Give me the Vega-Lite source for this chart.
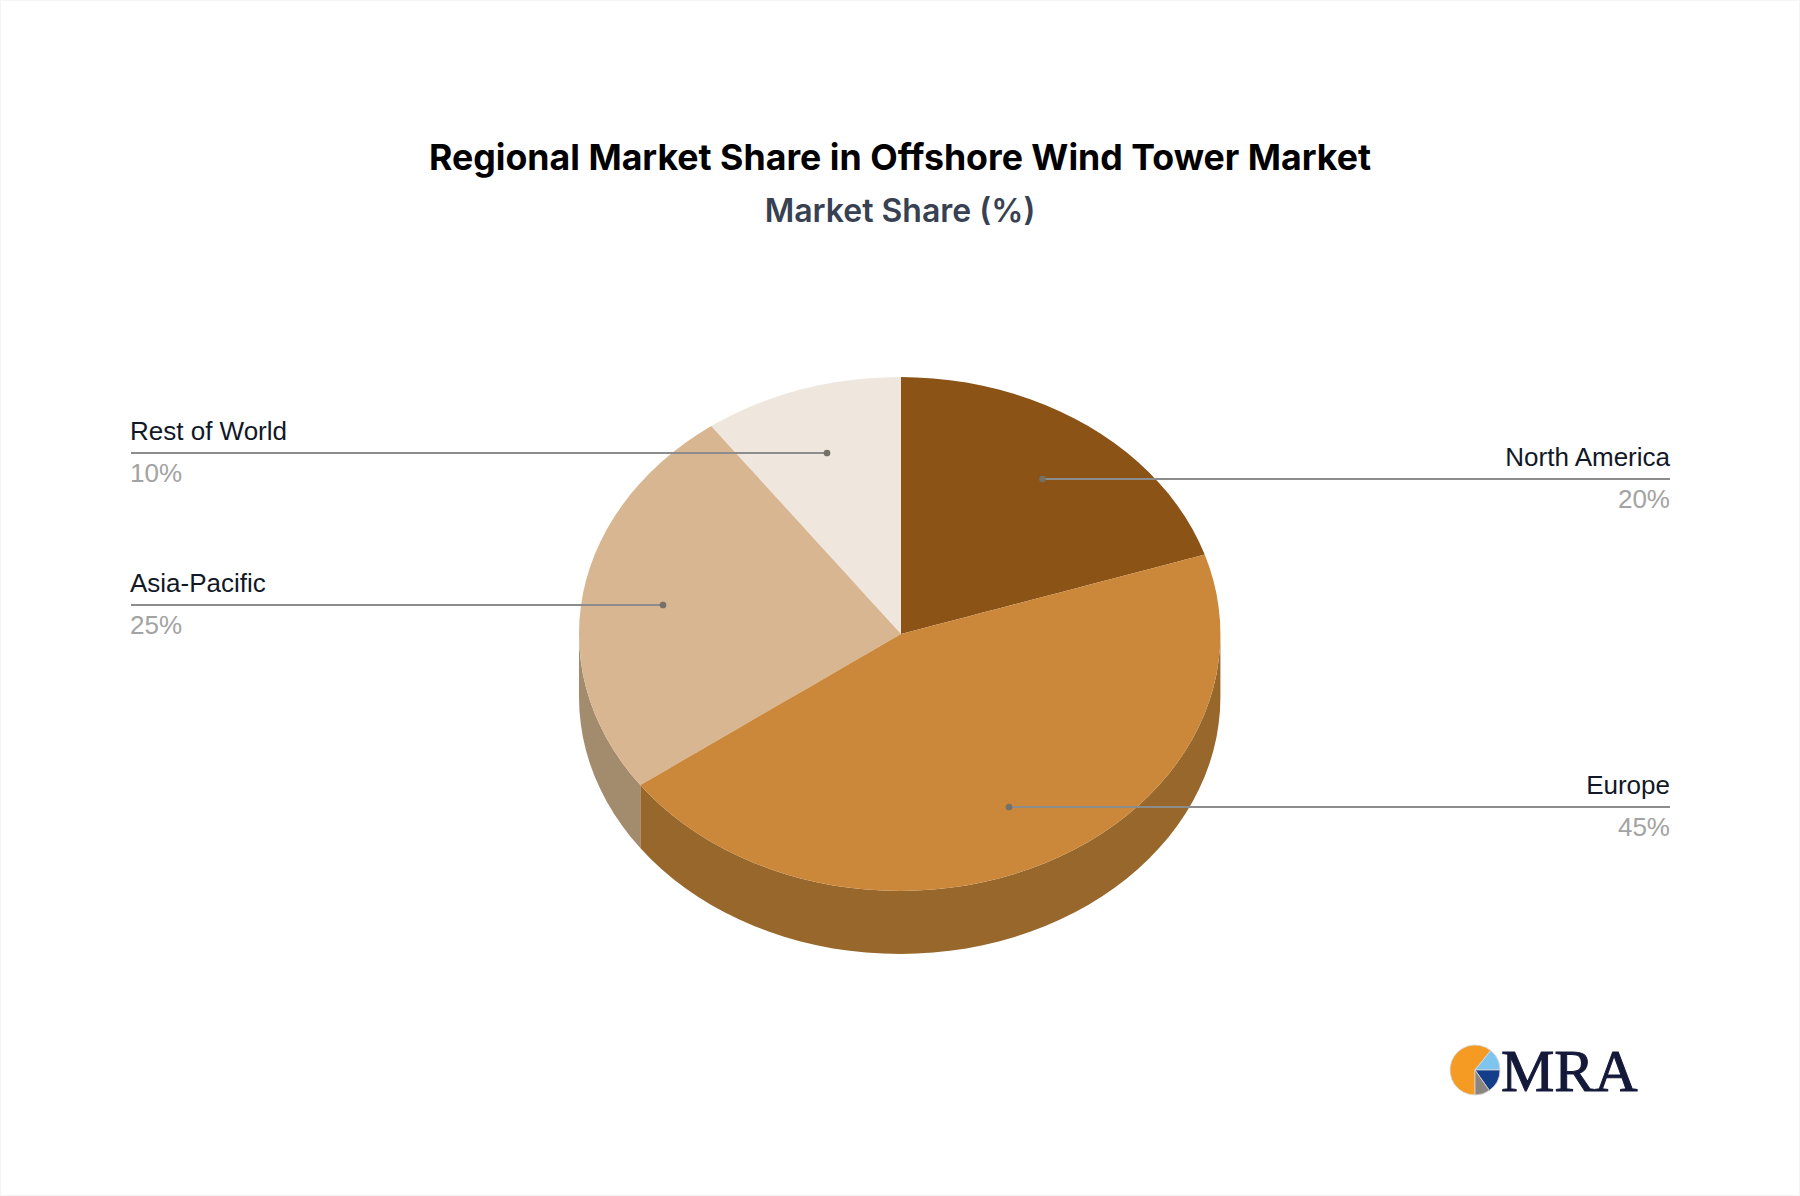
{
  "$schema": "https://vega.github.io/schema/vega-lite/v6.json",
  "description": "Regional market share in the offshore wind tower market, drawn as a tilted pie.",
  "width": 1800,
  "height": 1196,
  "padding": 0,
  "autosize": "none",
  "background": "#ffffff",
  "config": {"view": {"stroke": "#f4f4f4", "strokeWidth": 2}},
  "datasets": {
    "slices": [
      {"part": "Europe side", "x": 640.3, "y": 785.1, "y2": 848.1},
      {"part": "Europe side", "x": 650.5, "y": 795.7, "y2": 858.7},
      {"part": "Europe side", "x": 661.4, "y": 806, "y2": 869},
      {"part": "Europe side", "x": 672.9, "y": 815.7, "y2": 878.7},
      {"part": "Europe side", "x": 685.1, "y": 825, "y2": 888},
      {"part": "Europe side", "x": 697.9, "y": 833.7, "y2": 896.7},
      {"part": "Europe side", "x": 711.2, "y": 841.9, "y2": 904.9},
      {"part": "Europe side", "x": 725, "y": 849.5, "y2": 912.5},
      {"part": "Europe side", "x": 739.3, "y": 856.6, "y2": 919.6},
      {"part": "Europe side", "x": 754.1, "y": 863, "y2": 926},
      {"part": "Europe side", "x": 769.3, "y": 868.8, "y2": 931.8},
      {"part": "Europe side", "x": 784.8, "y": 873.9, "y2": 936.9},
      {"part": "Europe side", "x": 800.6, "y": 878.4, "y2": 941.4},
      {"part": "Europe side", "x": 816.7, "y": 882.2, "y2": 945.2},
      {"part": "Europe side", "x": 833, "y": 885.4, "y2": 948.4},
      {"part": "Europe side", "x": 849.5, "y": 887.8, "y2": 950.8},
      {"part": "Europe side", "x": 866.2, "y": 889.6, "y2": 952.6},
      {"part": "Europe side", "x": 882.9, "y": 890.6, "y2": 953.6},
      {"part": "Europe side", "x": 901, "y": 891, "y2": 954},
      {"part": "Europe side", "x": 916.5, "y": 890.6, "y2": 953.6},
      {"part": "Europe side", "x": 933.2, "y": 889.6, "y2": 952.6},
      {"part": "Europe side", "x": 949.9, "y": 887.8, "y2": 950.8},
      {"part": "Europe side", "x": 966.4, "y": 885.4, "y2": 948.4},
      {"part": "Europe side", "x": 982.7, "y": 882.2, "y2": 945.2},
      {"part": "Europe side", "x": 998.8, "y": 878.4, "y2": 941.4},
      {"part": "Europe side", "x": 1014.6, "y": 873.9, "y2": 936.9},
      {"part": "Europe side", "x": 1030.1, "y": 868.8, "y2": 931.8},
      {"part": "Europe side", "x": 1045.3, "y": 863, "y2": 926},
      {"part": "Europe side", "x": 1060.1, "y": 856.6, "y2": 919.6},
      {"part": "Europe side", "x": 1074.4, "y": 849.5, "y2": 912.5},
      {"part": "Europe side", "x": 1088.2, "y": 841.9, "y2": 904.9},
      {"part": "Europe side", "x": 1101.5, "y": 833.7, "y2": 896.7},
      {"part": "Europe side", "x": 1114.3, "y": 825, "y2": 888},
      {"part": "Europe side", "x": 1126.5, "y": 815.7, "y2": 878.7},
      {"part": "Europe side", "x": 1138, "y": 806, "y2": 869},
      {"part": "Europe side", "x": 1148.9, "y": 795.7, "y2": 858.7},
      {"part": "Europe side", "x": 1159.1, "y": 785.1, "y2": 848.1},
      {"part": "Europe side", "x": 1168.7, "y": 774, "y2": 837},
      {"part": "Europe side", "x": 1177.4, "y": 762.5, "y2": 825.5},
      {"part": "Europe side", "x": 1185.4, "y": 750.7, "y2": 813.7},
      {"part": "Europe side", "x": 1192.7, "y": 738.5, "y2": 801.5},
      {"part": "Europe side", "x": 1199.1, "y": 726.1, "y2": 789.1},
      {"part": "Europe side", "x": 1204.7, "y": 713.4, "y2": 776.4},
      {"part": "Europe side", "x": 1209.5, "y": 700.5, "y2": 763.5},
      {"part": "Europe side", "x": 1213.4, "y": 687.4, "y2": 750.4},
      {"part": "Europe side", "x": 1216.5, "y": 674.2, "y2": 737.2},
      {"part": "Europe side", "x": 1218.6, "y": 660.9, "y2": 723.9},
      {"part": "Europe side", "x": 1220, "y": 647.4, "y2": 710.4},
      {"part": "Europe side", "x": 1220.4, "y": 634, "y2": 697},
      {"part": "Asia-Pacific side", "x": 579, "y": 634, "y2": 697},
      {"part": "Asia-Pacific side", "x": 579.4, "y": 647.4, "y2": 710.4},
      {"part": "Asia-Pacific side", "x": 580.8, "y": 660.9, "y2": 723.9},
      {"part": "Asia-Pacific side", "x": 582.9, "y": 674.2, "y2": 737.2},
      {"part": "Asia-Pacific side", "x": 586, "y": 687.4, "y2": 750.4},
      {"part": "Asia-Pacific side", "x": 589.9, "y": 700.5, "y2": 763.5},
      {"part": "Asia-Pacific side", "x": 594.7, "y": 713.4, "y2": 776.4},
      {"part": "Asia-Pacific side", "x": 600.3, "y": 726.1, "y2": 789.1},
      {"part": "Asia-Pacific side", "x": 606.7, "y": 738.5, "y2": 801.5},
      {"part": "Asia-Pacific side", "x": 614, "y": 750.7, "y2": 813.7},
      {"part": "Asia-Pacific side", "x": 622, "y": 762.5, "y2": 825.5},
      {"part": "Asia-Pacific side", "x": 630.7, "y": 774, "y2": 837},
      {"part": "Asia-Pacific side", "x": 640.3, "y": 785.1, "y2": 848.1},
      {"part": "North America", "x": 901, "y": 377, "y2": 634},
      {"part": "North America", "x": 916.5, "y": 377.4, "y2": 630},
      {"part": "North America", "x": 933.2, "y": 378.4, "y2": 625.6},
      {"part": "North America", "x": 949.9, "y": 380.2, "y2": 621.2},
      {"part": "North America", "x": 966.4, "y": 382.6, "y2": 616.9},
      {"part": "North America", "x": 982.7, "y": 385.8, "y2": 612.6},
      {"part": "North America", "x": 998.8, "y": 389.6, "y2": 608.4},
      {"part": "North America", "x": 1014.6, "y": 394.1, "y2": 604.3},
      {"part": "North America", "x": 1030.1, "y": 399.2, "y2": 600.3},
      {"part": "North America", "x": 1045.3, "y": 405, "y2": 596.3},
      {"part": "North America", "x": 1060.1, "y": 411.4, "y2": 592.4},
      {"part": "North America", "x": 1074.4, "y": 418.5, "y2": 588.7},
      {"part": "North America", "x": 1088.2, "y": 426.1, "y2": 585.1},
      {"part": "North America", "x": 1101.5, "y": 434.3, "y2": 581.6},
      {"part": "North America", "x": 1114.3, "y": 443, "y2": 578.2},
      {"part": "North America", "x": 1126.5, "y": 452.3, "y2": 575},
      {"part": "North America", "x": 1138, "y": 462, "y2": 572},
      {"part": "North America", "x": 1148.9, "y": 472.3, "y2": 569.2},
      {"part": "North America", "x": 1159.1, "y": 482.9, "y2": 566.5},
      {"part": "North America", "x": 1168.7, "y": 494, "y2": 564},
      {"part": "North America", "x": 1177.4, "y": 505.5, "y2": 561.7},
      {"part": "North America", "x": 1185.4, "y": 517.3, "y2": 559.6},
      {"part": "North America", "x": 1192.7, "y": 529.5, "y2": 557.7},
      {"part": "North America", "x": 1199.1, "y": 541.9, "y2": 556.1},
      {"part": "North America", "x": 1204.7, "y": 554.6, "y2": 554.6},
      {"part": "Rest of World", "x": 711.2, "y": 426.1, "y2": 426.1},
      {"part": "Rest of World", "x": 725, "y": 418.5, "y2": 441.2},
      {"part": "Rest of World", "x": 739.3, "y": 411.4, "y2": 456.9},
      {"part": "Rest of World", "x": 754.1, "y": 405, "y2": 473.1},
      {"part": "Rest of World", "x": 769.3, "y": 399.2, "y2": 489.7},
      {"part": "Rest of World", "x": 784.8, "y": 394.1, "y2": 506.7},
      {"part": "Rest of World", "x": 800.6, "y": 389.6, "y2": 524},
      {"part": "Rest of World", "x": 816.7, "y": 385.8, "y2": 541.7},
      {"part": "Rest of World", "x": 833, "y": 382.6, "y2": 559.5},
      {"part": "Rest of World", "x": 849.5, "y": 380.2, "y2": 577.6},
      {"part": "Rest of World", "x": 866.2, "y": 378.4, "y2": 595.9},
      {"part": "Rest of World", "x": 882.9, "y": 377.4, "y2": 614.2},
      {"part": "Rest of World", "x": 901, "y": 377, "y2": 634},
      {"part": "Asia-Pacific", "x": 579, "y": 634, "y2": 634},
      {"part": "Asia-Pacific", "x": 579.4, "y": 620.6, "y2": 647.4},
      {"part": "Asia-Pacific", "x": 580.8, "y": 607.1, "y2": 660.9},
      {"part": "Asia-Pacific", "x": 582.9, "y": 593.8, "y2": 674.2},
      {"part": "Asia-Pacific", "x": 586, "y": 580.6, "y2": 687.4},
      {"part": "Asia-Pacific", "x": 589.9, "y": 567.5, "y2": 700.5},
      {"part": "Asia-Pacific", "x": 594.7, "y": 554.6, "y2": 713.4},
      {"part": "Asia-Pacific", "x": 600.3, "y": 541.9, "y2": 726.1},
      {"part": "Asia-Pacific", "x": 606.7, "y": 529.5, "y2": 738.5},
      {"part": "Asia-Pacific", "x": 614, "y": 517.3, "y2": 750.7},
      {"part": "Asia-Pacific", "x": 622, "y": 505.5, "y2": 762.5},
      {"part": "Asia-Pacific", "x": 630.7, "y": 494, "y2": 774},
      {"part": "Asia-Pacific", "x": 640.3, "y": 482.9, "y2": 785.1},
      {"part": "Asia-Pacific", "x": 650.5, "y": 472.3, "y2": 779.2},
      {"part": "Asia-Pacific", "x": 661.4, "y": 462, "y2": 772.9},
      {"part": "Asia-Pacific", "x": 672.9, "y": 452.3, "y2": 766.2},
      {"part": "Asia-Pacific", "x": 685.1, "y": 443, "y2": 759.1},
      {"part": "Asia-Pacific", "x": 697.9, "y": 434.3, "y2": 751.7},
      {"part": "Asia-Pacific", "x": 711.2, "y": 426.1, "y2": 744},
      {"part": "Asia-Pacific", "x": 725, "y": 441.2, "y2": 736},
      {"part": "Asia-Pacific", "x": 739.3, "y": 456.9, "y2": 727.7},
      {"part": "Asia-Pacific", "x": 754.1, "y": 473.1, "y2": 719.1},
      {"part": "Asia-Pacific", "x": 769.3, "y": 489.7, "y2": 710.3},
      {"part": "Asia-Pacific", "x": 784.8, "y": 506.7, "y2": 701.3},
      {"part": "Asia-Pacific", "x": 800.6, "y": 524, "y2": 692.2},
      {"part": "Asia-Pacific", "x": 816.7, "y": 541.7, "y2": 682.9},
      {"part": "Asia-Pacific", "x": 833, "y": 559.5, "y2": 673.4},
      {"part": "Asia-Pacific", "x": 849.5, "y": 577.6, "y2": 663.8},
      {"part": "Asia-Pacific", "x": 866.2, "y": 595.9, "y2": 654.2},
      {"part": "Asia-Pacific", "x": 882.9, "y": 614.2, "y2": 644.5},
      {"part": "Asia-Pacific", "x": 901, "y": 634, "y2": 634},
      {"part": "Europe", "x": 640.3, "y": 785.1, "y2": 785.1},
      {"part": "Europe", "x": 650.5, "y": 779.2, "y2": 795.7},
      {"part": "Europe", "x": 661.4, "y": 772.9, "y2": 806},
      {"part": "Europe", "x": 672.9, "y": 766.2, "y2": 815.7},
      {"part": "Europe", "x": 685.1, "y": 759.1, "y2": 825},
      {"part": "Europe", "x": 697.9, "y": 751.7, "y2": 833.7},
      {"part": "Europe", "x": 711.2, "y": 744, "y2": 841.9},
      {"part": "Europe", "x": 725, "y": 736, "y2": 849.5},
      {"part": "Europe", "x": 739.3, "y": 727.7, "y2": 856.6},
      {"part": "Europe", "x": 754.1, "y": 719.1, "y2": 863},
      {"part": "Europe", "x": 769.3, "y": 710.3, "y2": 868.8},
      {"part": "Europe", "x": 784.8, "y": 701.3, "y2": 873.9},
      {"part": "Europe", "x": 800.6, "y": 692.2, "y2": 878.4},
      {"part": "Europe", "x": 816.7, "y": 682.9, "y2": 882.2},
      {"part": "Europe", "x": 833, "y": 673.4, "y2": 885.4},
      {"part": "Europe", "x": 849.5, "y": 663.8, "y2": 887.8},
      {"part": "Europe", "x": 866.2, "y": 654.2, "y2": 889.6},
      {"part": "Europe", "x": 882.9, "y": 644.5, "y2": 890.6},
      {"part": "Europe", "x": 901, "y": 634, "y2": 891},
      {"part": "Europe", "x": 916.5, "y": 630, "y2": 890.6},
      {"part": "Europe", "x": 933.2, "y": 625.6, "y2": 889.6},
      {"part": "Europe", "x": 949.9, "y": 621.2, "y2": 887.8},
      {"part": "Europe", "x": 966.4, "y": 616.9, "y2": 885.4},
      {"part": "Europe", "x": 982.7, "y": 612.6, "y2": 882.2},
      {"part": "Europe", "x": 998.8, "y": 608.4, "y2": 878.4},
      {"part": "Europe", "x": 1014.6, "y": 604.3, "y2": 873.9},
      {"part": "Europe", "x": 1030.1, "y": 600.3, "y2": 868.8},
      {"part": "Europe", "x": 1045.3, "y": 596.3, "y2": 863},
      {"part": "Europe", "x": 1060.1, "y": 592.4, "y2": 856.6},
      {"part": "Europe", "x": 1074.4, "y": 588.7, "y2": 849.5},
      {"part": "Europe", "x": 1088.2, "y": 585.1, "y2": 841.9},
      {"part": "Europe", "x": 1101.5, "y": 581.6, "y2": 833.7},
      {"part": "Europe", "x": 1114.3, "y": 578.2, "y2": 825},
      {"part": "Europe", "x": 1126.5, "y": 575, "y2": 815.7},
      {"part": "Europe", "x": 1138, "y": 572, "y2": 806},
      {"part": "Europe", "x": 1148.9, "y": 569.2, "y2": 795.7},
      {"part": "Europe", "x": 1159.1, "y": 566.5, "y2": 785.1},
      {"part": "Europe", "x": 1168.7, "y": 564, "y2": 774},
      {"part": "Europe", "x": 1177.4, "y": 561.7, "y2": 762.5},
      {"part": "Europe", "x": 1185.4, "y": 559.6, "y2": 750.7},
      {"part": "Europe", "x": 1192.7, "y": 557.7, "y2": 738.5},
      {"part": "Europe", "x": 1199.1, "y": 556.1, "y2": 726.1},
      {"part": "Europe", "x": 1204.7, "y": 554.6, "y2": 713.4},
      {"part": "Europe", "x": 1209.5, "y": 567.5, "y2": 700.5},
      {"part": "Europe", "x": 1213.4, "y": 580.6, "y2": 687.4},
      {"part": "Europe", "x": 1216.5, "y": 593.8, "y2": 674.2},
      {"part": "Europe", "x": 1218.6, "y": 607.1, "y2": 660.9},
      {"part": "Europe", "x": 1220, "y": 620.6, "y2": 647.4},
      {"part": "Europe", "x": 1220.4, "y": 634, "y2": 634}
    ],
    "leaders": [
      {"region": "Rest of World", "from": 131, "to": 827, "y": 453},
      {"region": "Asia-Pacific", "from": 131, "to": 663, "y": 605},
      {"region": "North America", "from": 1670, "to": 1042.5, "y": 479},
      {"region": "Europe", "from": 1670, "to": 1009, "y": 807}
    ],
    "labels": [
      {"text": "Rest of World", "kind": "name", "side": "left", "x": 130, "y": 440},
      {"text": "10%", "kind": "share", "side": "left", "x": 130, "y": 482},
      {"text": "Asia-Pacific", "kind": "name", "side": "left", "x": 130, "y": 592},
      {"text": "25%", "kind": "share", "side": "left", "x": 130, "y": 634},
      {"text": "North America", "kind": "name", "side": "right", "x": 1670, "y": 466},
      {"text": "20%", "kind": "share", "side": "right", "x": 1670, "y": 508},
      {"text": "Europe", "kind": "name", "side": "right", "x": 1670, "y": 794},
      {"text": "45%", "kind": "share", "side": "right", "x": 1670, "y": 836}
    ],
    "logo": [
      {"piece": "orange", "x": 1475, "y": 1070, "a0": 3.14, "a1": 6.96},
      {"piece": "light", "x": 1475, "y": 1070, "a0": 0.68, "a1": 1.57},
      {"piece": "navy", "x": 1475, "y": 1070, "a0": 1.57, "a1": 2.53},
      {"piece": "grey", "x": 1475, "y": 1070, "a0": 2.53, "a1": 3.14}
    ]
  },
  "layer": [
    {
      "data": {"name": "slices"},
      "mark": {"type": "area", "interpolate": "linear"},
      "encoding": {
        "x": {"field": "x", "type": "quantitative", "scale": {"domain": [0, 1800], "nice": false, "zero": false}, "axis": null},
        "y": {"field": "y", "type": "quantitative", "scale": {"domain": [1196, 0], "nice": false, "zero": false}, "axis": null},
        "y2": {"field": "y2"},
        "color": {
          "field": "part",
          "type": "nominal",
          "legend": null,
          "scale": {
            "domain": ["Europe side", "Asia-Pacific side", "North America", "Rest of World", "Asia-Pacific", "Europe", "name", "share"],
            "range": ["#98672B", "#A38B6E", "#8B5316", "#EFE6DD", "#D8B691", "#CB883B", "#111827", "#a3a3a3"]
          }
        }
      }
    },
    {
      "data": {"name": "leaders"},
      "mark": {"type": "rule", "color": "#8c8c8c", "strokeWidth": 2},
      "encoding": {
        "x": {"field": "from", "type": "quantitative", "axis": null},
        "x2": {"field": "to"},
        "y": {"field": "y", "type": "quantitative", "axis": null}
      }
    },
    {
      "data": {"name": "leaders"},
      "mark": {"type": "point", "filled": true, "opacity": 1, "color": "#757068", "size": 45},
      "encoding": {
        "x": {"field": "to", "type": "quantitative", "axis": null},
        "y": {"field": "y", "type": "quantitative", "axis": null}
      }
    },
    {
      "data": {"name": "labels"},
      "transform": [{"filter": "datum.side === 'left'"}],
      "mark": {"type": "text", "align": "left", "baseline": "alphabetic", "font": "Liberation Sans", "fontSize": 26},
      "encoding": {
        "x": {"field": "x", "type": "quantitative", "axis": null},
        "y": {"field": "y", "type": "quantitative", "axis": null},
        "text": {"field": "text"},
        "color": {"field": "kind", "type": "nominal", "legend": null}
      }
    },
    {
      "data": {"name": "labels"},
      "transform": [{"filter": "datum.side === 'right'"}],
      "mark": {"type": "text", "align": "right", "baseline": "alphabetic", "font": "Liberation Sans", "fontSize": 26},
      "encoding": {
        "x": {"field": "x", "type": "quantitative", "axis": null},
        "y": {"field": "y", "type": "quantitative", "axis": null},
        "text": {"field": "text"},
        "color": {"field": "kind", "type": "nominal", "legend": null}
      }
    },
    {
      "data": {"values": [{"text": "Regional Market Share in Offshore Wind Tower Market", "x": 900, "y": 170}]},
      "mark": {"type": "text", "align": "center", "baseline": "alphabetic", "font": "Inter", "fontWeight": 700, "fontSize": 35.7, "color": "#000000"},
      "encoding": {
        "x": {"field": "x", "type": "quantitative", "axis": null},
        "y": {"field": "y", "type": "quantitative", "axis": null},
        "text": {"field": "text"}
      }
    },
    {
      "data": {"values": [{"text": "Market Share (%)", "x": 900, "y": 222}]},
      "mark": {"type": "text", "align": "center", "baseline": "alphabetic", "font": "Inter", "fontWeight": 600, "fontSize": 32, "color": "#374151"},
      "encoding": {
        "x": {"field": "x", "type": "quantitative", "axis": null},
        "y": {"field": "y", "type": "quantitative", "axis": null},
        "text": {"field": "text"}
      }
    },
    {
      "data": {"name": "logo"},
      "mark": {"type": "arc", "outerRadius": 25, "stroke": "#d8d8d8", "strokeWidth": 0.8},
      "encoding": {
        "x": {"field": "x", "type": "quantitative", "axis": null},
        "y": {"field": "y", "type": "quantitative", "axis": null},
        "theta": {"field": "a0", "type": "quantitative", "scale": null},
        "theta2": {"field": "a1"},
        "fill": {
          "field": "piece",
          "type": "nominal",
          "legend": null,
          "scale": {"domain": ["orange", "light", "navy", "grey"], "range": ["#F59A23", "#7FC4EE", "#153E8A", "#8A8580"]}
        }
      }
    },
    {
      "data": {"values": [{"text": "MRA", "x": 1501, "y": 1091}]},
      "mark": {"type": "text", "align": "left", "baseline": "alphabetic", "font": "Liberation Serif", "fontSize": 60, "color": "#14193A", "stroke": "#14193A", "strokeWidth": 1},
      "encoding": {
        "x": {"field": "x", "type": "quantitative", "axis": null},
        "y": {"field": "y", "type": "quantitative", "axis": null},
        "text": {"field": "text"}
      }
    }
  ]
}
